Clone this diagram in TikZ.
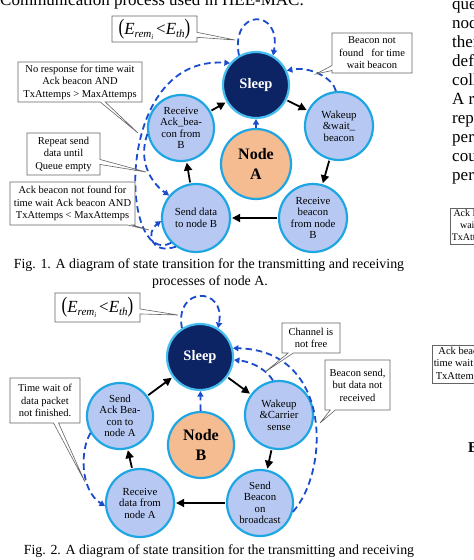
\documentclass[tikz,border=0pt]{standalone}
\usepackage{fontspec}
\setmainfont{Liberation Serif}
\usepackage{graphicx}
\usetikzlibrary{arrows.meta,shapes.callouts}
\definecolor{lblue}{RGB}{183,201,243}
\definecolor{cyanb}{RGB}{30,166,226}
\definecolor{cyanl}{RGB}{70,190,240}
\definecolor{navy}{RGB}{12,35,100}
\definecolor{peach}{RGB}{245,187,145}
\definecolor{dblue}{RGB}{25,75,205}
\definecolor{cgray}{RGB}{100,100,100}
\newcommand{\erem}{\fontsize{17}{17}\selectfont\scalebox{1}[1.3]{(}\textit{E}\raisebox{-3pt}{\fontsize{11}{11}\selectfont\textit{rem}\raisebox{-2pt}{\fontsize{7}{7}\selectfont\textit{i}}}\,<\textit{E}\raisebox{-3pt}{\fontsize{11}{11}\selectfont\textit{th}}\scalebox{1}[1.3]{)}}
\begin{document}
\begin{tikzpicture}[x=1pt,y=-1pt,
  st/.style={circle,draw=cyanb,line width=2.2pt,fill=lblue,inner sep=0pt,minimum size=68pt,align=center,font=\fontsize{10.8}{11.5}\selectfont},
  sl/.style={st,fill=navy,draw=cyanl,text=white,font=\bfseries\fontsize{14.5}{15}\selectfont},
  nd/.style={st,fill=peach,font=\bfseries\fontsize{16}{20}\selectfont},
  arr/.style={line width=1.8pt,-{Triangle[length=8pt,width=8pt]},shorten >=1pt,shorten <=1pt},
  dsh/.style={draw=dblue,line width=1.8pt,dash pattern=on 6.5pt off 4pt,-{Triangle[length=5.5pt,width=6pt]}},
  co/.style={rectangle callout,draw=cgray,line width=0.6pt,fill=white,align=center,inner sep=1pt,font=\fontsize{10.5}{12.5}\selectfont,callout pointer width=5pt},
  capt/.style={font=\fontsize{13.9}{16}\selectfont,inner sep=0pt},
  body/.style={font=\fontsize{17}{19}\selectfont,inner sep=0pt,anchor=base west},
  rbox/.style={draw=cgray,line width=0.6pt,fill=white,align=center,inner sep=1.5pt,font=\fontsize{10.5}{12.5}\selectfont,anchor=north west}
]
\useasboundingbox (0,0) rectangle (474,560);
\fill[white] (0,0) rectangle (474,560);

% ---------- surrounding page text ----------
\node[body,anchor=base east] (toptxt) at (304,5) {Communication process used in HEE-MAC.};
\foreach \w [count=\i] in {queue,node,then,define,collision,A random,repeat,period,counter,period}
  \node[body] (bt\i) at (452,{9+19*(\i-1)}) {\w};
\node[rbox,font=\fontsize{10}{12}\selectfont] (r1) at (450,208) {Ack Beacon not found for\\wait Ack beacon AND\\TxAttemps < MaxAttemps};
\node[rbox] (r2) at (432,345) {Ack beacon not found for\\time wait Ack beacon AND\\TxAttemps < MaxAttemps};
\node[body,anchor=base west,font=\bfseries\fontsize{15}{15}\selectfont] (bb) at (468,452) {B};

% ---------- Fig. 1 ----------
\node[sl,minimum size=66pt] (sleepA) at (256,85) {Sleep};
\node[nd,minimum size=70pt] (nodeA) at (256,164) {Node\\A};
\node[st] (wakeA) at (339,126) {Wakeup\\\&wait\_\\beacon};
\node[st] (rbA) at (313,218) {Receive\\beacon\\from node\\B};
\node[st] (sendA) at (196,218) {Send data\\to node B};
\node[st,minimum size=66pt] (rackA) at (181,128) {Receive\\Ack\_bea-\\con from\\B};

\draw[arr] (sleepA) -- (wakeA);
\draw[arr] (wakeA) -- (rbA);
\draw[arr] (rbA) -- (sendA);
\draw[arr] (sendA) -- (rackA);
\draw[arr] (rackA) -- (sleepA);

\draw[dsh] (nodeA) -- (sleepA);
\draw[dsh] (sleepA.120) .. controls (230,8) and (282,8) .. (sleepA.60);
\draw[dsh] (wakeA.95) .. controls (333,78) and (310,66) .. (sleepA.25);
\draw[dsh] (sendA.225) .. controls (120,270) and (112,55) .. (sleepA.140);
\draw[dsh] (rackA.190) .. controls (138,160) and (150,182) .. (sendA.140);
\draw[dsh] (sendA.235) .. controls (150,255) and (146,232) .. (sendA.185);

\coordinate (p1) at (235,40);
\coordinate (p2) at (316,74);
\coordinate (p3) at (138,133);
\coordinate (p4) at (146,172);
\coordinate (p5) at (149,230);
\node[co,callout absolute pointer={(p1)},minimum width=85pt,minimum height=26pt] (c1) at (154.5,29) {\erem};
\node[co,callout absolute pointer={(p2)},minimum width=80pt,minimum height=40pt] (c2) at (372,53) {Beacon not\\found~~ for time\\wait beacon};
\node[co,callout absolute pointer={(p3)},minimum width=124pt,minimum height=40pt] (c3) at (80,82) {No response for time wait\\Ack beacon AND\\TxAttemps > MaxAttemps};
\node[co,callout absolute pointer={(p4)},minimum width=73pt,minimum height=42pt] (c4) at (63.5,154) {Repeat send\\data until\\Queue empty};
\node[co,callout absolute pointer={(p5)},minimum width=125pt,minimum height=43pt] (c5) at (72.5,203.5) {Ack beacon not found for\\time wait Ack beacon AND\\TxAttemps < MaxAttemps};

\node[capt,anchor=base] (cap1) at (209,268) {Fig. 1. A diagram of state transition for the transmitting and receiving};
\node[capt,anchor=base] (cap1b) at (210,285) {processes of node A.};

% ---------- Fig. 2 ----------
\node[sl,minimum size=66pt] (sleepB) at (200,357) {Sleep};
\node[nd,minimum size=66pt] (nodeB) at (201,445) {Node\\B};
\node[st,minimum size=66pt] (sackB) at (120,416) {Send\\Ack Bea-\\con to\\node A};
\node[st] (rdB) at (140,503) {Receive\\data from\\node A};
\node[st,minimum size=66pt] (sbB) at (260,503) {Send\\Beacon\\on\\broadcast};
\node[st] (wakeB) at (279,415) {Wakeup\\\&Carrier\\sense};

\draw[arr] (sleepB) -- (wakeB);
\draw[arr] (wakeB) -- (sbB);
\draw[arr] (sbB) -- (rdB);
\draw[arr] (rdB) -- (sackB);
\draw[arr] (sackB) -- (sleepB);

\draw[dsh] (nodeB) -- (sleepB);
\draw[dsh] (sleepB.122) .. controls (174,286) and (226,286) .. (sleepB.58);
\draw[dsh] (wakeB.100) .. controls (268,372) and (255,362) .. (sleepB.-5);
\draw[dsh] (sbB.-15) .. controls (330,470) and (332,350) .. (sleepB.15);
\draw[dsh] (sackB.210) .. controls (80,450) and (80,490) .. (rdB.185);

\coordinate (q1) at (178,315);
\coordinate (q2) at (265,372);
\coordinate (q3) at (320,423);
\coordinate (q4) at (85,482);
\node[co,callout absolute pointer={(q1)},minimum width=85pt,minimum height=29pt] (d1) at (97.5,307.5) {\erem};
\node[co,callout absolute pointer={(q2)},minimum width=58pt,minimum height=30pt] (d2) at (311,338) {Channel is\\not free};
\node[co,callout absolute pointer={(q3)},minimum width=65pt,minimum height=50pt] (d3) at (357.5,385) {Beacon send,\\but data not\\received};
\node[co,callout absolute pointer={(q4)},minimum width=70pt,minimum height=45pt] (d4) at (45,400.5) {Time wait of\\data packet\\not finished.};

\node[capt,anchor=base] (cap2) at (219,554) {Fig. 2. A diagram of state transition for the transmitting and receiving};
\end{tikzpicture}
\end{document}
